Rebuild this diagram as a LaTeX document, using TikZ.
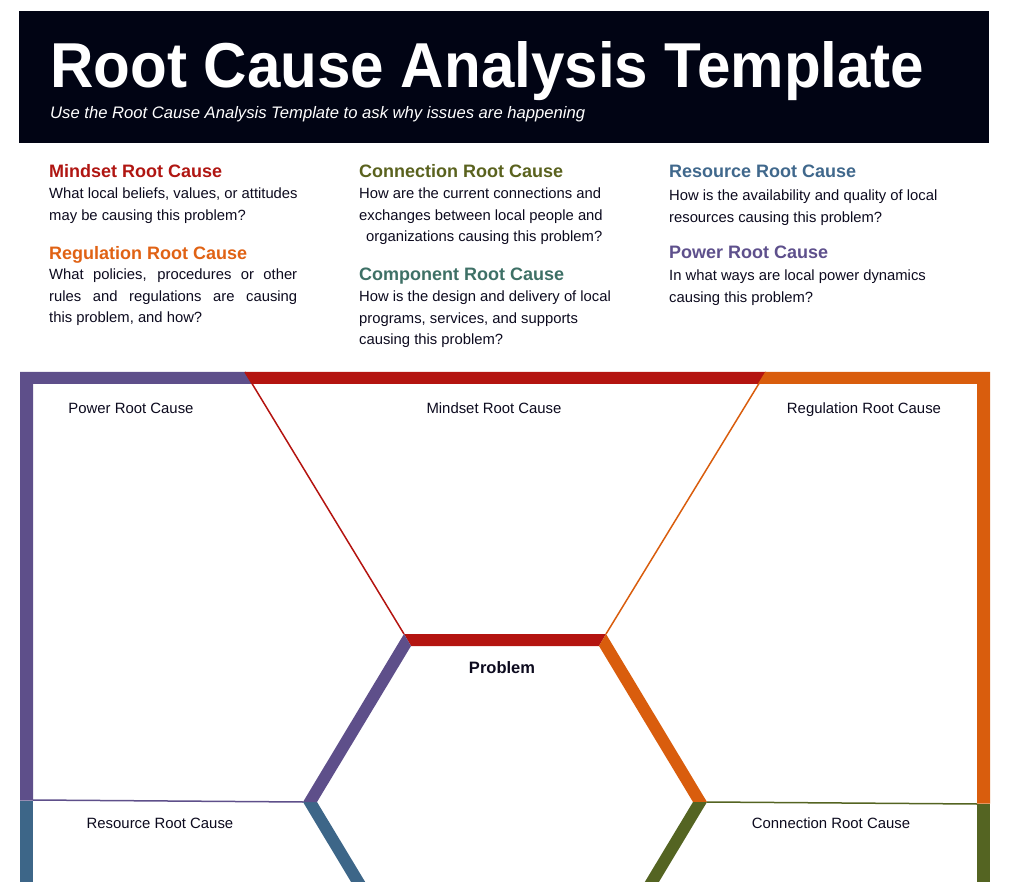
\documentclass[tikz,border=0pt]{standalone}
\usepackage{fontspec}
\setmainfont{Liberation Sans}
\usepackage{graphicx}
\definecolor{hdrbg}{RGB}{1,4,20}
\definecolor{cpurple}{RGB}{94,79,138}
\definecolor{cred}{RGB}{180,20,16}
\definecolor{corange}{RGB}{217,93,13}
\definecolor{cgreen}{RGB}{84,100,34}
\definecolor{cblue}{RGB}{61,102,136}
\definecolor{cteal}{RGB}{62,112,102}
\definecolor{hmind}{RGB}{176,22,18}
\definecolor{hreg}{RGB}{224,98,20}
\definecolor{hcon}{RGB}{90,98,30}
\definecolor{hcomp}{RGB}{62,112,102}
\definecolor{hres}{RGB}{64,104,140}
\definecolor{hpow}{RGB}{94,80,140}
\definecolor{txt}{RGB}{12,10,30}
\newcommand{\bodypar}[1]{\parbox[t]{300pt}{\raggedright #1}}
\begin{document}
\begin{tikzpicture}[x=1pt,y=-1pt,
  thinlink/.style={line width=1.5pt},
  lbl/.style={font=\fontsize{14.9}{17}\selectfont, inner sep=0, anchor=base, text=txt},
  head/.style={font=\fontsize{18}{21}\selectfont\bfseries, inner sep=0, anchor=base west},
  body/.style={font=\fontsize{14.8}{21.5}\selectfont, inner sep=0, anchor=base west, text=txt},
]
\useasboundingbox (0,0) rectangle (1010,882);
\clip (0,0) rectangle (1010,882);
% header
\fill[hdrbg] (19,11) rectangle (989,143);
\node[inner sep=0, anchor=base west, text=white] (title) at (50,88)
  {\resizebox{874pt}{46pt}{\bfseries Root Cause Analysis Template}};
\node[inner sep=0, anchor=base west, text=white] (subtitle) at (50,119)
  {\resizebox{535pt}{!}{\fontsize{14}{16}\selectfont\itshape Use the Root Cause Analysis Template to ask why issues are happening}};
% column 1
\node[head, text=hmind] (h1) at (49,178) {Mindset Root Cause};
\node[body] (b1) at (49,199) {\bodypar{What local beliefs, values, or attitudes\\may be causing this problem?}};
\node[head, text=hreg] (h2) at (49,260) {Regulation Root Cause};
\node[body] (b2) at (49,280) {\bodypar{\makebox[248pt][s]{What policies, procedures or other}\\\makebox[248pt][s]{rules and regulations are causing}\\this problem, and how?}};
% column 2
\node[head, text=hcon] (h3) at (359,178) {Connection Root Cause};
\node[body] (b3) at (359,199) {\bodypar{How are the current connections and\\exchanges between local people and\\\hspace*{7pt}organizations causing this problem?}};
\node[head, text=hcomp] (h4) at (359,281) {Component Root Cause};
\node[body] (b4) at (359,302) {\bodypar{How is the design and delivery of local\\programs, services, and supports\\causing this problem?}};
% column 3
\node[head, text=hres] (h5) at (669,178) {Resource Root Cause};
\node[body] (b5) at (669,201) {\bodypar{How is the availability and quality of local\\resources causing this problem?}};
\node[head, text=hpow] (h6) at (669,259) {Power Root Cause};
\node[body] (b6) at (669,281) {\bodypar{In what ways are local power dynamics\\causing this problem?}};
% hexagon coordinates
\coordinate (O1) at (404,634); \coordinate (O2) at (606,634);
\coordinate (O3) at (707,802); \coordinate (O4) at (606,970);
\coordinate (O5) at (404,970); \coordinate (O6) at (303,802);
\coordinate (I1) at (411,646); \coordinate (I2) at (599,646);
\coordinate (I3) at (693,802); \coordinate (I4) at (599,958);
\coordinate (I5) at (411,958); \coordinate (I6) at (317,802);
% frame corner coordinates
\coordinate (TP) at (245,372); \coordinate (TO) at (766,372);
\coordinate (LS) at (33,800); \coordinate (RS) at (977,804);
% frame bands
\fill[cpurple] (20,372) -- (TP) -- (252.3,384) -- (33,384) -- (33,800.5) -- (20,800.5) -- cycle;
\fill[cblue] (20,800.5) rectangle (33,900);
\fill[cred] (TP) -- (TO) -- (758.7,384) -- (252.3,384) -- cycle;
\fill[corange] (TO) -- (990,372) -- (990,803.5) -- (977,803.5) -- (977,384) -- (758.7,384) -- cycle;
\fill[cgreen] (977,803.5) rectangle (990,900);
% hexagon bands
\fill[cred] (O1) -- (O2) -- (I2) -- (I1) -- cycle;
\fill[corange] (O2) -- (O3) -- (I3) -- (I2) -- cycle;
\fill[cgreen] (O3) -- (O4) -- (I4) -- (I3) -- cycle;
\fill[cteal] (O4) -- (O5) -- (I5) -- (I4) -- cycle;
\fill[cblue] (O5) -- (O6) -- (I6) -- (I5) -- cycle;
\fill[cpurple] (O6) -- (O1) -- (I1) -- (I6) -- cycle;
% connectors
\draw[thinlink, cred] (TP) -- (O1);
\draw[thinlink, corange] (TO) -- (O2);
\draw[thinlink, cpurple] (LS) -- (O6);
\draw[thinlink, cgreen] (O3) -- (RS);
% labels
\node[lbl] (lpow) at (131,414) {Power Root Cause};
\node[lbl] (lmind) at (494,414) {Mindset Root Cause};
\node[lbl] (lreg) at (864,414) {Regulation Root Cause};
\node[lbl, font=\fontsize{16.5}{18}\selectfont\bfseries] (lprob) at (502,673) {Problem};
\node[lbl] (lres) at (160,828) {Resource Root Cause};
\node[lbl] (lcon) at (831,828) {Connection Root Cause};
\end{tikzpicture}
\end{document}
